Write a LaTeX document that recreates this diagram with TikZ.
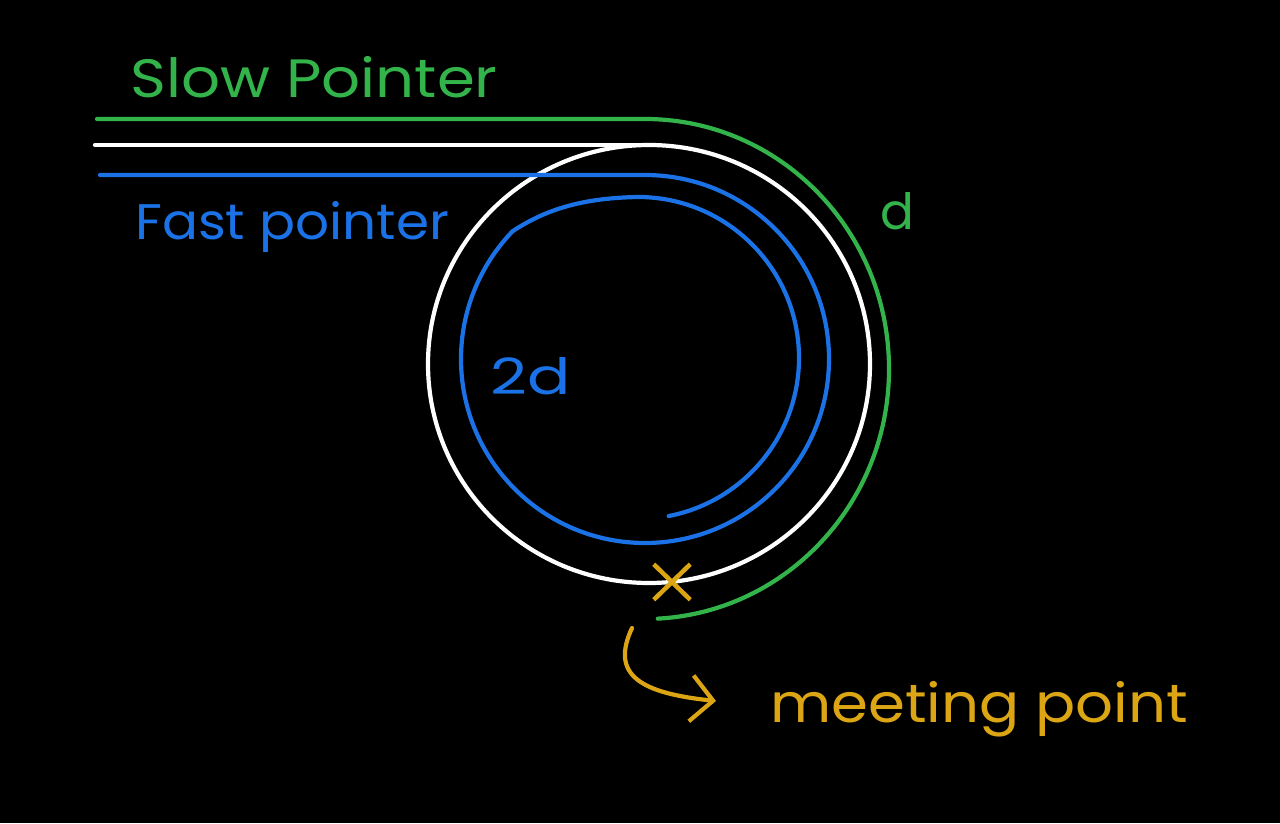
\documentclass[tikz,border=0pt]{standalone}
\usepackage{fontspec}
\setmainfont{Poppins}
\usetikzlibrary{arrows.meta,shapes.misc}
\definecolor{slowgreen}{HTML}{33B44A}
\definecolor{fastblue}{HTML}{1A72E6}
\definecolor{meetgold}{HTML}{DCA514}
\begin{document}
\begin{tikzpicture}[x=1pt,y=1pt,
  track/.style={line width=4.2pt, line cap=round},
  lbl/.style={inner sep=0pt, font=\fontsize{50}{60}\selectfont},
  lblbig/.style={inner sep=0pt, font=\fontsize{54}{64}\selectfont}]
\fill[black] (0,0) rectangle (1280,823);
\useasboundingbox (0,0) rectangle (1280,823);

% slow pointer (green)
\draw[track, slowgreen] (97,704) -- (645,704)
  arc[start angle=90, end angle=-87, x radius=244, y radius=250];
% white list / cycle
\draw[track, white] (95,678) -- (649,678);
\draw[track, white] (649,459) ellipse[x radius=221, y radius=219];
% fast pointer (blue)
\draw[track, fastblue] (100,648) -- (645,648)
  arc[start angle=90, end angle=-224, radius=184]
  .. controls (548,615) and (585,625) .. (638,626)
  arc[start angle=90, end angle=-79, radius=161];

% labels
\node[lblbig, xscale=1.13, text=slowgreen, anchor=base west] (slowlbl) at (130,725) {Slow Pointer};
\node[lbl, xscale=1.065, text=fastblue, anchor=base west] (fastlbl) at (135,583) {Fast pointer};
\node[lbl, text=slowgreen, anchor=base west] (dlbl) at (880,593) {d};
\node[lbl, xscale=1.28, text=fastblue, anchor=base west] (twodlbl) at (490,428) {2d};
\node[lblbig, xscale=1.1, text=meetgold, anchor=base west] (meetlbl) at (770,101) {meeting point};

% meeting point mark
\node[cross out, draw=meetgold, line width=4.5pt, minimum width=32pt, minimum height=31pt] (meet) at (672,241) {};

% arrow to label
\coordinate (arrowstart) at (632,195);
\coordinate (arrowend) at (716,122);
\draw[track, meetgold, -{Straight Barb[length=22pt,width=46pt]}]
  (arrowstart) .. controls (610,148) and (640,130) .. (arrowend);
\end{tikzpicture}
\end{document}
